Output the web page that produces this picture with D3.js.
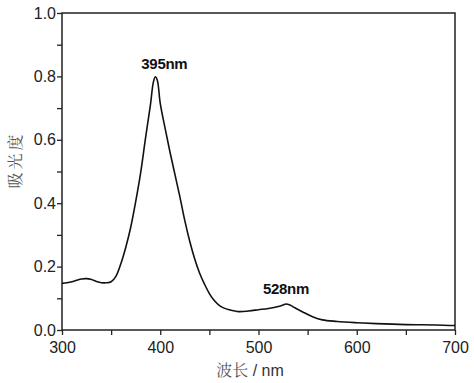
<!DOCTYPE html>
<html><head><meta charset="utf-8">
<script src="https://cdn.jsdelivr.net/npm/d3@7"></script>
<style>body{margin:0;background:#fff}svg{display:block}</style>
</head><body>
<script>
const wavelengths = [300,305,310,315,320,325,330,335,340,345,350,355,360,365,370,375,380,385,390,393,395,397,400,405,410,415,420,425,430,435,440,445,450,455,460,465,470,480,490,500,510,520,525,528,532,537,545,555,565,580,600,620,650,680,700];
const absorbance  = [0.147,0.149,0.152,0.157,0.161,0.162,0.159,0.153,0.149,0.149,0.152,0.17,0.21,0.262,0.325,0.405,0.495,0.605,0.71,0.782,0.799,0.788,0.715,0.635,0.56,0.49,0.42,0.345,0.28,0.225,0.18,0.145,0.115,0.093,0.078,0.069,0.064,0.058,0.06,0.064,0.068,0.074,0.079,0.082,0.079,0.07,0.057,0.042,0.032,0.027,0.023,0.02,0.017,0.016,0.014];
const xTicks = [300,400,500,600,700];
const yTicks = [0.0,0.2,0.4,0.6,0.8,1.0];
const peakLabels = [{wl:395, a:0.799, text:"395nm"},{wl:528, a:0.082, text:"528nm"}];

const W=474,H=383, L=62, R=455, T=13, B=330;
const svg=d3.select("body").append("svg").attr("width",W).attr("height",H);
const x=d3.scaleLinear().domain([300,700]).range([L,R]);
const y=d3.scaleLinear().domain([0,1]).range([B,T]);
const font="'Liberation Sans', Arial, sans-serif";

// frame
svg.append("rect").attr("x",L).attr("y",T).attr("width",R-L).attr("height",B-T)
  .attr("fill","none").attr("stroke","#222").attr("stroke-width",1.5);

// bottom axis
const xa=svg.append("g").attr("transform",`translate(0,${B})`)
  .call(d3.axisBottom(x).tickValues(d3.range(300,701,50)).tickSize(5).tickFormat(d=>xTicks.includes(d)?d3.format("d")(d):""));
xa.select(".domain").remove();
xa.selectAll("line").attr("stroke","#222").attr("stroke-width",1.3);
xa.selectAll("text").attr("font-family",font).attr("font-size",16).attr("fill","#222").attr("dy","0.95em");

// left axis
const ya=svg.append("g").attr("transform",`translate(${L},0)`)
  .call(d3.axisLeft(y).tickValues(d3.range(0,1.0001,0.1)).tickSize(5)
    .tickFormat(d=>yTicks.some(t=>Math.abs(t-d)<1e-6)?d3.format(".1f")(d):""));
ya.select(".domain").remove();
ya.selectAll("line").attr("stroke","#222").attr("stroke-width",1.3);
ya.selectAll("text").attr("font-family",font).attr("font-size",16).attr("fill","#222").attr("x",-6);

// curve
const line=d3.line().x((d,i)=>x(wavelengths[i])).y(d=>y(d)).curve(d3.curveCatmullRom.alpha(0.5));
svg.append("path").datum(absorbance).attr("d",line).attr("fill","none")
  .attr("stroke","#111").attr("stroke-width",1.6).attr("stroke-linejoin","round");

// peak labels
svg.selectAll("text.peak").data(peakLabels).enter().append("text").attr("class","peak")
  .attr("x",d=>x(d.wl)+ (d.wl===395?9:0)).attr("y",d=>y(d.a)-(d.wl===395?8:10))
  .attr("text-anchor","middle").attr("font-family",font).attr("font-weight","bold")
  .attr("font-size",15).attr("fill","#111").attr("letter-spacing",-0.3).text(d=>d.text);

// axis titles
svg.append("text").attr("transform","translate(21,160) rotate(-90)").attr("text-anchor","middle")
  .attr("font-family","'Noto Serif CJK SC','Noto Sans CJK SC',serif").attr("font-size",16)
  .attr("letter-spacing",3).attr("fill","#555").text("吸光度");
const xt=svg.append("text").attr("x",250).attr("y",376).attr("text-anchor","middle")
  .attr("font-size",16).attr("fill","#555");
xt.append("tspan").attr("font-family","'Noto Serif CJK SC','Noto Sans CJK SC',serif").text("波长");
xt.append("tspan").attr("font-family",font).attr("fill","#333").text(" / nm");
</script>
</body></html>
